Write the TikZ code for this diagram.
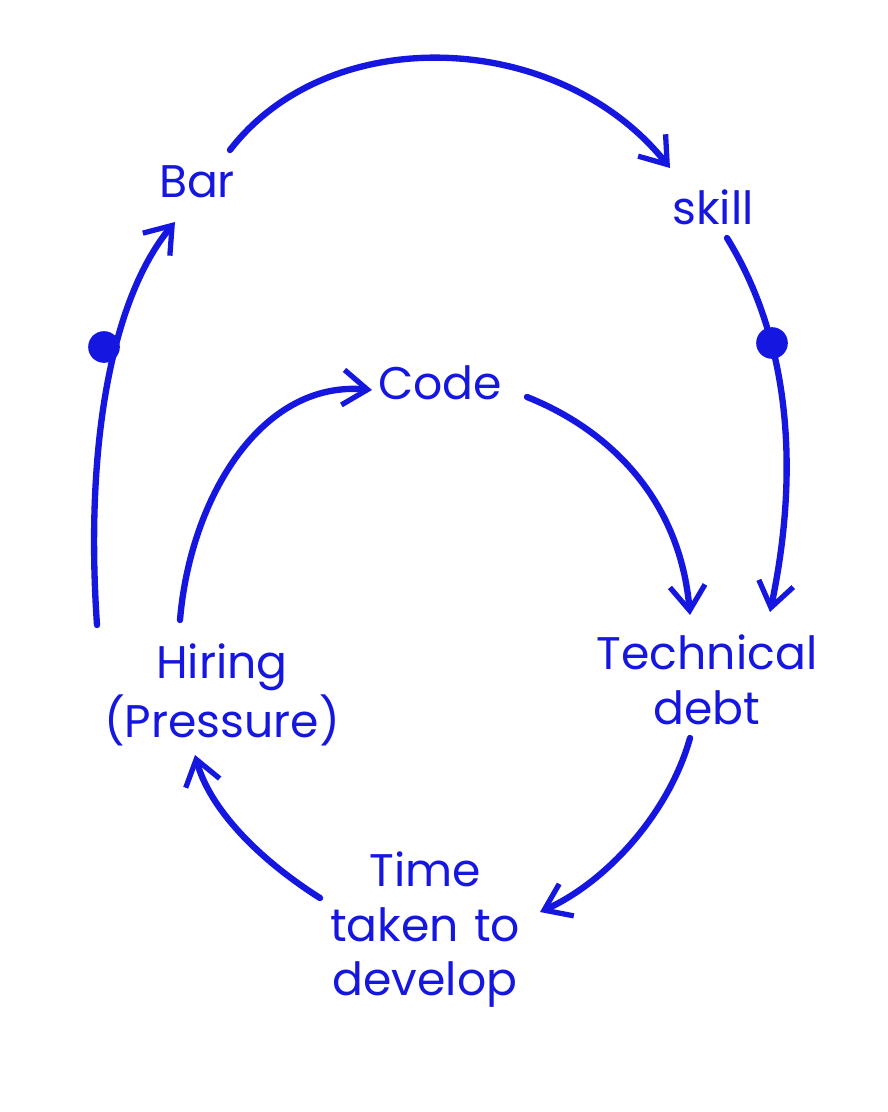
\documentclass[tikz,border=0pt]{standalone}
\usepackage{fontspec}
\setmainfont{Poppins}
\usetikzlibrary{arrows.meta}
\definecolor{pen}{RGB}{22,22,225}
\tikzset{
  lbl/.style={text=pen, font=\fontsize{13}{15.5}\selectfont, align=center, inner sep=2pt},
  link/.style={draw=pen, line width=1.8pt, line cap=round, -{Straight Barb[length=7pt,width=10pt,line width=1.5pt]}},
  dot/.style={circle, fill=pen, inner sep=0pt, minimum size=9pt},
}
\begin{document}
\begin{tikzpicture}[x=0.01cm,y=-0.01cm]
\useasboundingbox (0,0) rectangle (888,1112);
\node[lbl] (bar) at (197,182) {Bar};
\node[lbl] (skill) at (713,207) {skill};
\node[lbl] (code) at (440,383) {Code};
\node[lbl] (hiring) at (222,695) {Hiring\\(Pressure)};
\node[lbl] (tech) at (707,680) {Technical\\debt};
\node[lbl, text width=5cm] (time) at (425,930) {Time\\taken to\\develop};
\coordinate (h1) at (97,625); \coordinate (b1) at (175,222);
\coordinate (b2) at (230,150); \coordinate (s1) at (670,168);
\coordinate (s2) at (727,238); \coordinate (t1) at (770,612);
\coordinate (h2) at (180,620); \coordinate (c1) at (372,390);
\coordinate (c2) at (527,397); \coordinate (t2) at (690,615);
\coordinate (t3) at (690,738); \coordinate (m1) at (540,912);
\coordinate (m2) at (320,898); \coordinate (h3) at (195,755);
\draw[link] (h1) .. controls (85,450) and (110,300) .. (b1);
\node[dot] (d1) at (104,347) {};
\draw[link] (b2) .. controls (330,20) and (560,30) .. (s1);
\draw[link] (s2) .. controls (790,340) and (800,470) .. (t1);
\node[dot] (d2) at (772,343) {};
\draw[link] (h2) .. controls (190,500) and (260,380) .. (c1);
\draw[link] (c2) .. controls (610,430) and (680,500) .. (t2);
\draw[link] (t3) .. controls (670,810) and (610,880) .. (m1);
\draw[link] (m2) .. controls (260,860) and (210,810) .. (h3);
\end{tikzpicture}
\end{document}
